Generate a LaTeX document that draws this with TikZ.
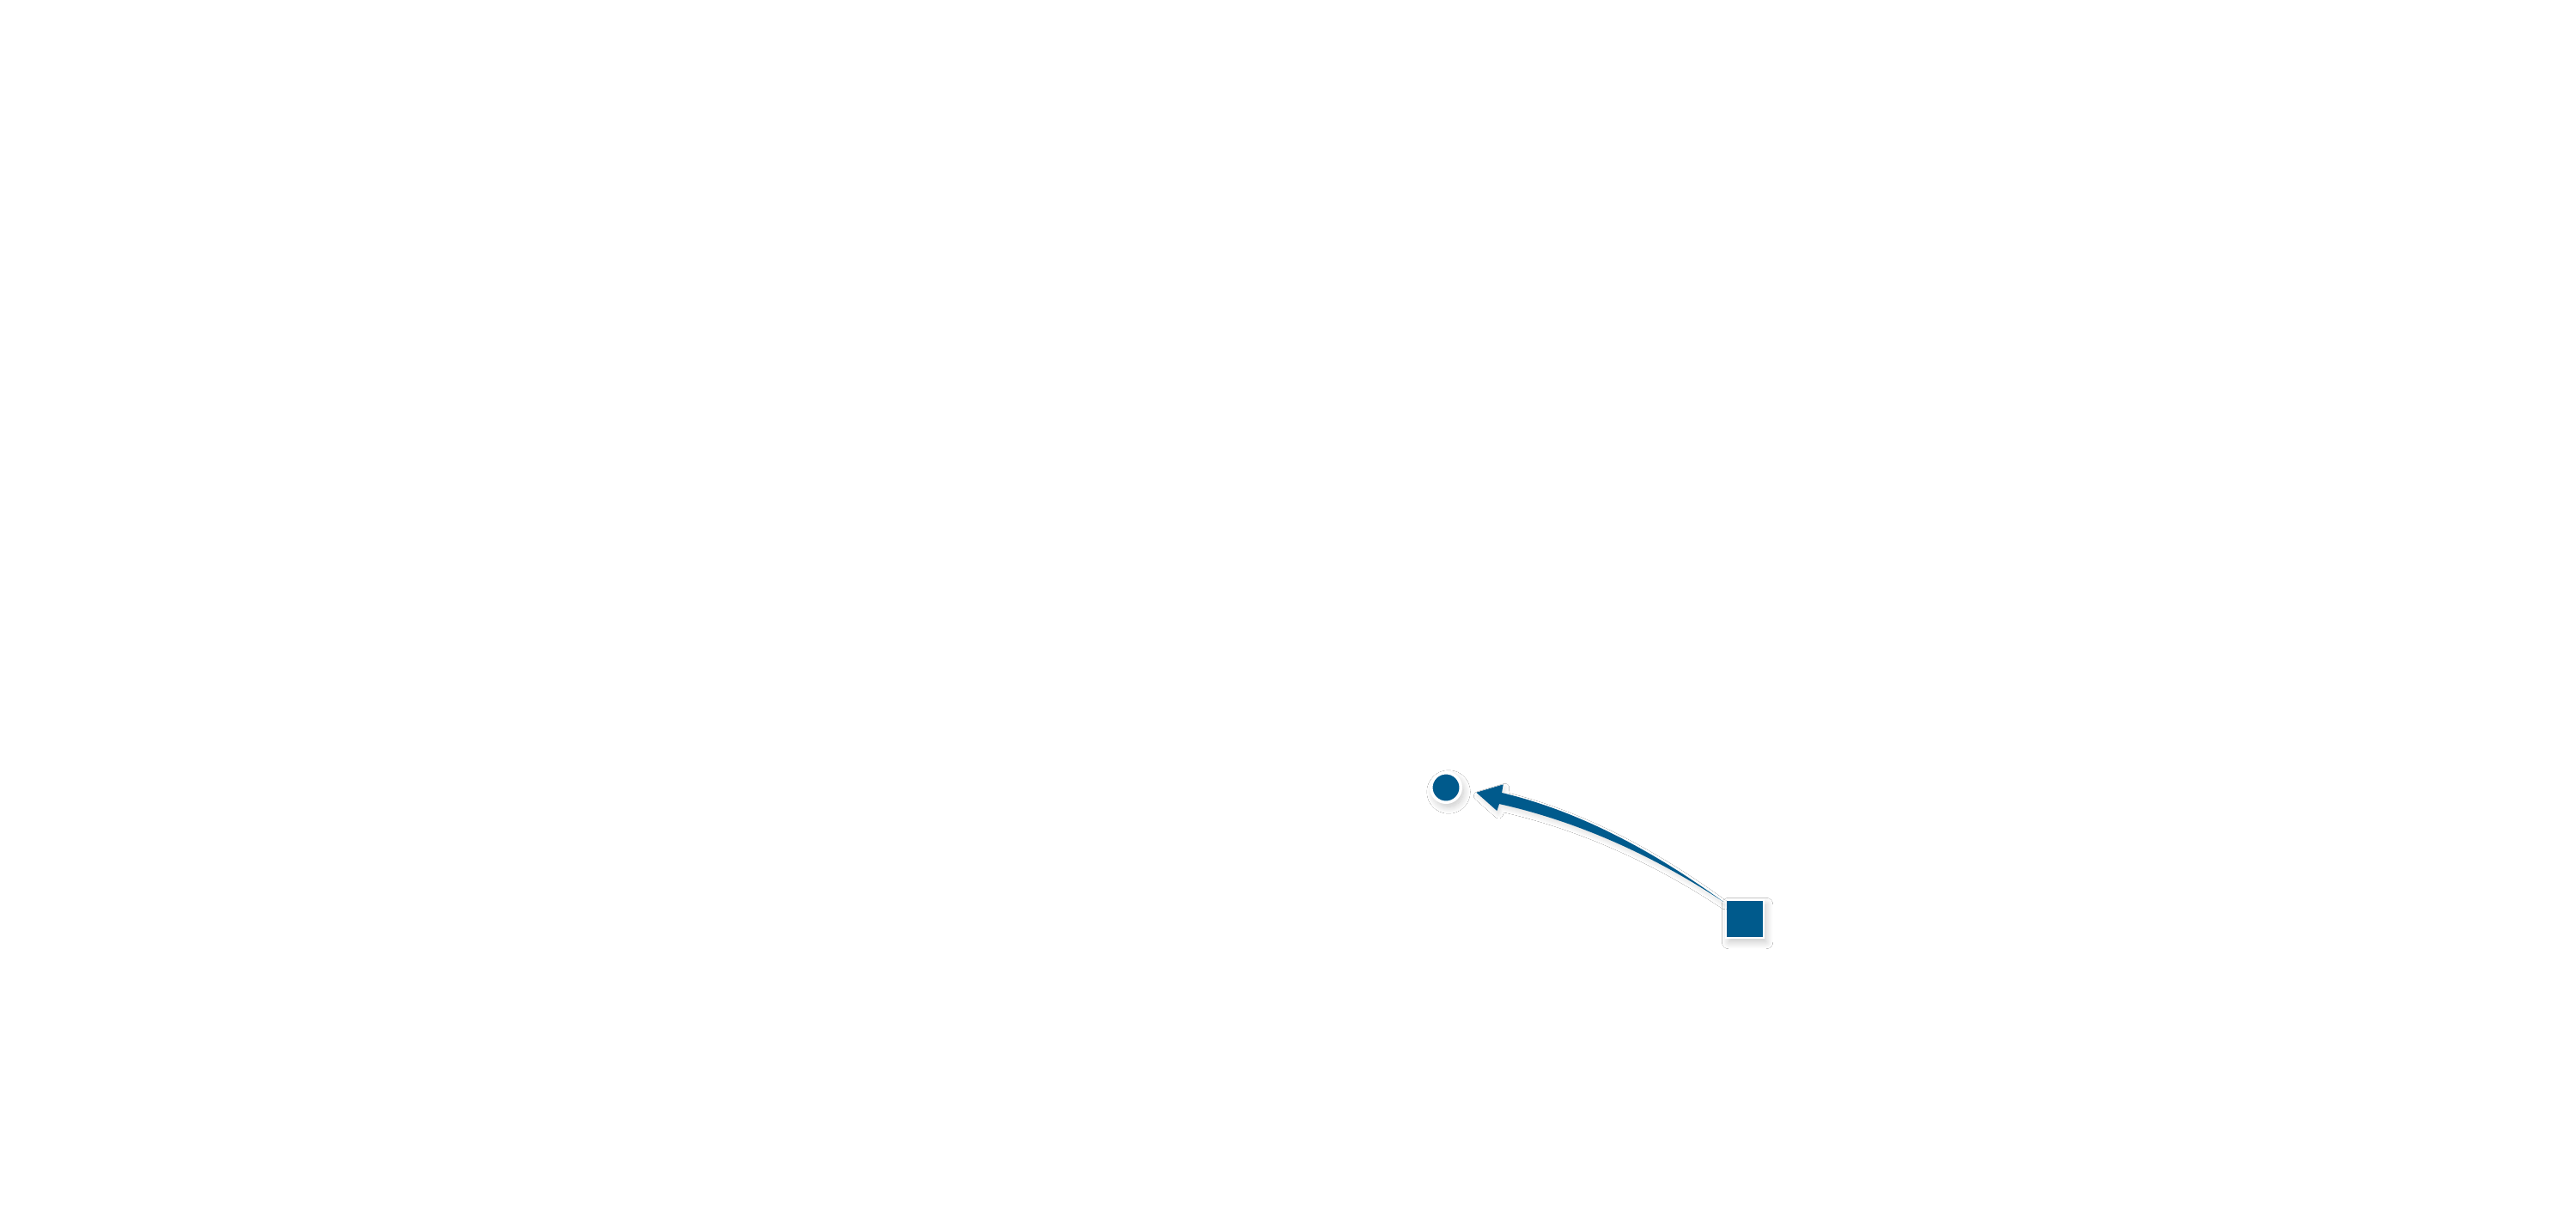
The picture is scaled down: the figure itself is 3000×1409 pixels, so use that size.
\documentclass[tikz,border=0pt]{standalone}
\usetikzlibrary{shadows.blur}
\definecolor{mainblue}{RGB}{0,90,140}
\begin{document}
\begin{tikzpicture}[x=1pt,y=-1pt,
  softshadow/.style={blur shadow={shadow xshift=3pt,shadow yshift=-5pt,shadow blur steps=12,shadow blur radius=8pt,shadow opacity=22}},
  marker/.style={fill=mainblue,draw=white,inner sep=0pt,softshadow},
  dotnode/.style={marker,circle,minimum size=34.5pt,line width=3.5pt},
  boxnode/.style={marker,rectangle,minimum size=43.5pt,line width=2pt},
  taper/.style={fill=mainblue,draw=none,
    blur shadow={shadow xshift=2pt,shadow yshift=-4pt,shadow blur steps=8,shadow blur radius=5pt,shadow opacity=12}}]
\fill[white] (0,0) rectangle (3000,1409);
\useasboundingbox (0,0) rectangle (3000,1409);
\node[dotnode] (dot) at (1684,917) {};
\node[boxnode] (box) at (2032,1070) {};
\coordinate (tip) at (1719.3,922.7);
\coordinate (start) at ([xshift=-2.25pt,yshift=-2.75pt]box.north west);
\fill[taper] (start)
  .. controls (1929.9,994) and (1842.4,945.2) .. (1749,923)
  -- (1750.7,913.3) -- (tip) -- (1743.3,944) -- (1746,936)
  .. controls (1839.6,956.8) and (1928.9,998) .. (start) -- cycle;
\end{tikzpicture}
\end{document}
